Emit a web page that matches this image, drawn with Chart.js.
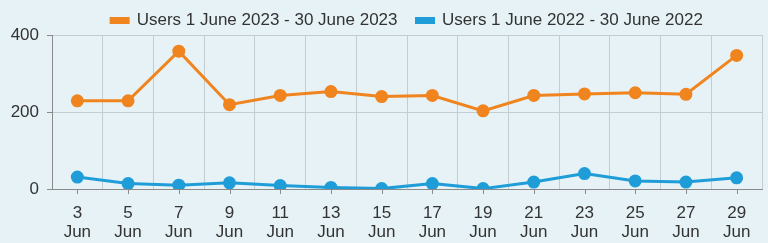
<!DOCTYPE html>
<html>
<head>
<meta charset="utf-8">
<script src="https://cdn.jsdelivr.net/npm/chart.js@4/dist/chart.umd.min.js"></script>
<style>
  html, body { margin: 0; padding: 0; background: #e6f2f5; }
  #wrap { width: 768px; height: 243px; }
</style>
</head>
<body>
<div id="wrap"><canvas id="usersChart"></canvas></div>
<script>
const days = [3, 5, 7, 9, 11, 13, 15, 17, 19, 21, 23, 25, 27, 29];
const users2023 = [229, 229, 358, 219, 243, 253, 240, 243, 203, 243, 247, 250, 246, 347];
const users2022 = [31, 14, 10, 16, 9, 4, 1, 14, 1, 18, 40, 21, 18, 29];
const yTicks = [0, 200, 400];

const FONT = "'Liberation Sans', Arial, sans-serif";

// small tick marks under each category, from the x scale
const xTickMarks = {
    id: 'xTickMarks',
    afterDraw: function(chart) {
        const ctx = chart.ctx;
        const x = chart.scales.x;
        ctx.save();
        ctx.strokeStyle = '#8a8a8a';
        ctx.lineWidth = 1;
        for (let i = 0; i < days.length; i++) {
            const px = Math.round(x.getPixelForValue(i)) + 0.5;
            ctx.beginPath();
            ctx.moveTo(px, x.top);
            ctx.lineTo(px, x.top + 5);
            ctx.stroke();
        }
        ctx.restore();
    }
};

// fixed legend height so the plot starts where the original does
const legendHeight = {
    id: 'legendHeight',
    beforeInit: function(chart) {
        const fit = chart.legend.fit;
        chart.legend.fit = function() {
            fit.bind(chart.legend)();
            this.height = 42;
        };
    }
};

new Chart(document.getElementById('usersChart').getContext('2d'), {
    type: 'line',
    data: {
        labels: days.map(d => [String(d), 'Jun']),
        datasets: [{
            label: 'Users 1 June 2023 - 30 June 2023',
            data: users2023,
            borderColor: '#f0841f',
            backgroundColor: '#f0841f',
            borderWidth: 3,
            pointRadius: 5,
            pointHoverRadius: 5,
            tension: 0
        }, {
            label: 'Users 1 June 2022 - 30 June 2022',
            data: users2022,
            borderColor: '#1f9dd8',
            backgroundColor: '#1f9dd8',
            borderWidth: 3,
            pointRadius: 5,
            pointHoverRadius: 5,
            tension: 0
        }]
    },
    options: {
        responsive: true,
        maintainAspectRatio: false,
        animation: false,
        layout: { autoPadding: false, padding: { left: 0, right: 6, top: -7, bottom: 0 } },
        plugins: {
            tooltip: { enabled: false },
            legend: {
                position: 'top',
                fullSize: false,
                labels: {
                    color: '#333',
                    font: { family: FONT, size: 17 },
                    boxWidth: 17,
                    boxHeight: 4,
                    padding: 19
                }
            }
        },
        scales: {
            x: {
                offset: true,
                afterFit: function(axis) { axis.height = 54; },
                grid: {
                    offset: true,
                    color: '#c3cdd1',
                    drawTicks: false
                },
                border: { color: '#8a8a8a' },
                ticks: {
                    color: '#333',
                    font: { family: FONT, size: 17, lineHeight: 1.1 },
                    maxRotation: 0,
                    autoSkip: false,
                    padding: 15
                }
            },
            y: {
                min: 0,
                max: 400,
                afterFit: function(axis) { axis.width = 52; },
                afterBuildTicks: function(axis) {
                    axis.ticks = yTicks.map(v => ({ value: v }));
                },
                grid: {
                    color: '#c3cdd1',
                    tickLength: 5,
                    tickColor: '#8a8a8a'
                },
                border: { color: '#8a8a8a' },
                ticks: {
                    color: '#333',
                    font: { family: FONT, size: 17 },
                    padding: 8
                }
            }
        }
    },
    plugins: [xTickMarks, legendHeight]
});
</script>
</body>
</html>
